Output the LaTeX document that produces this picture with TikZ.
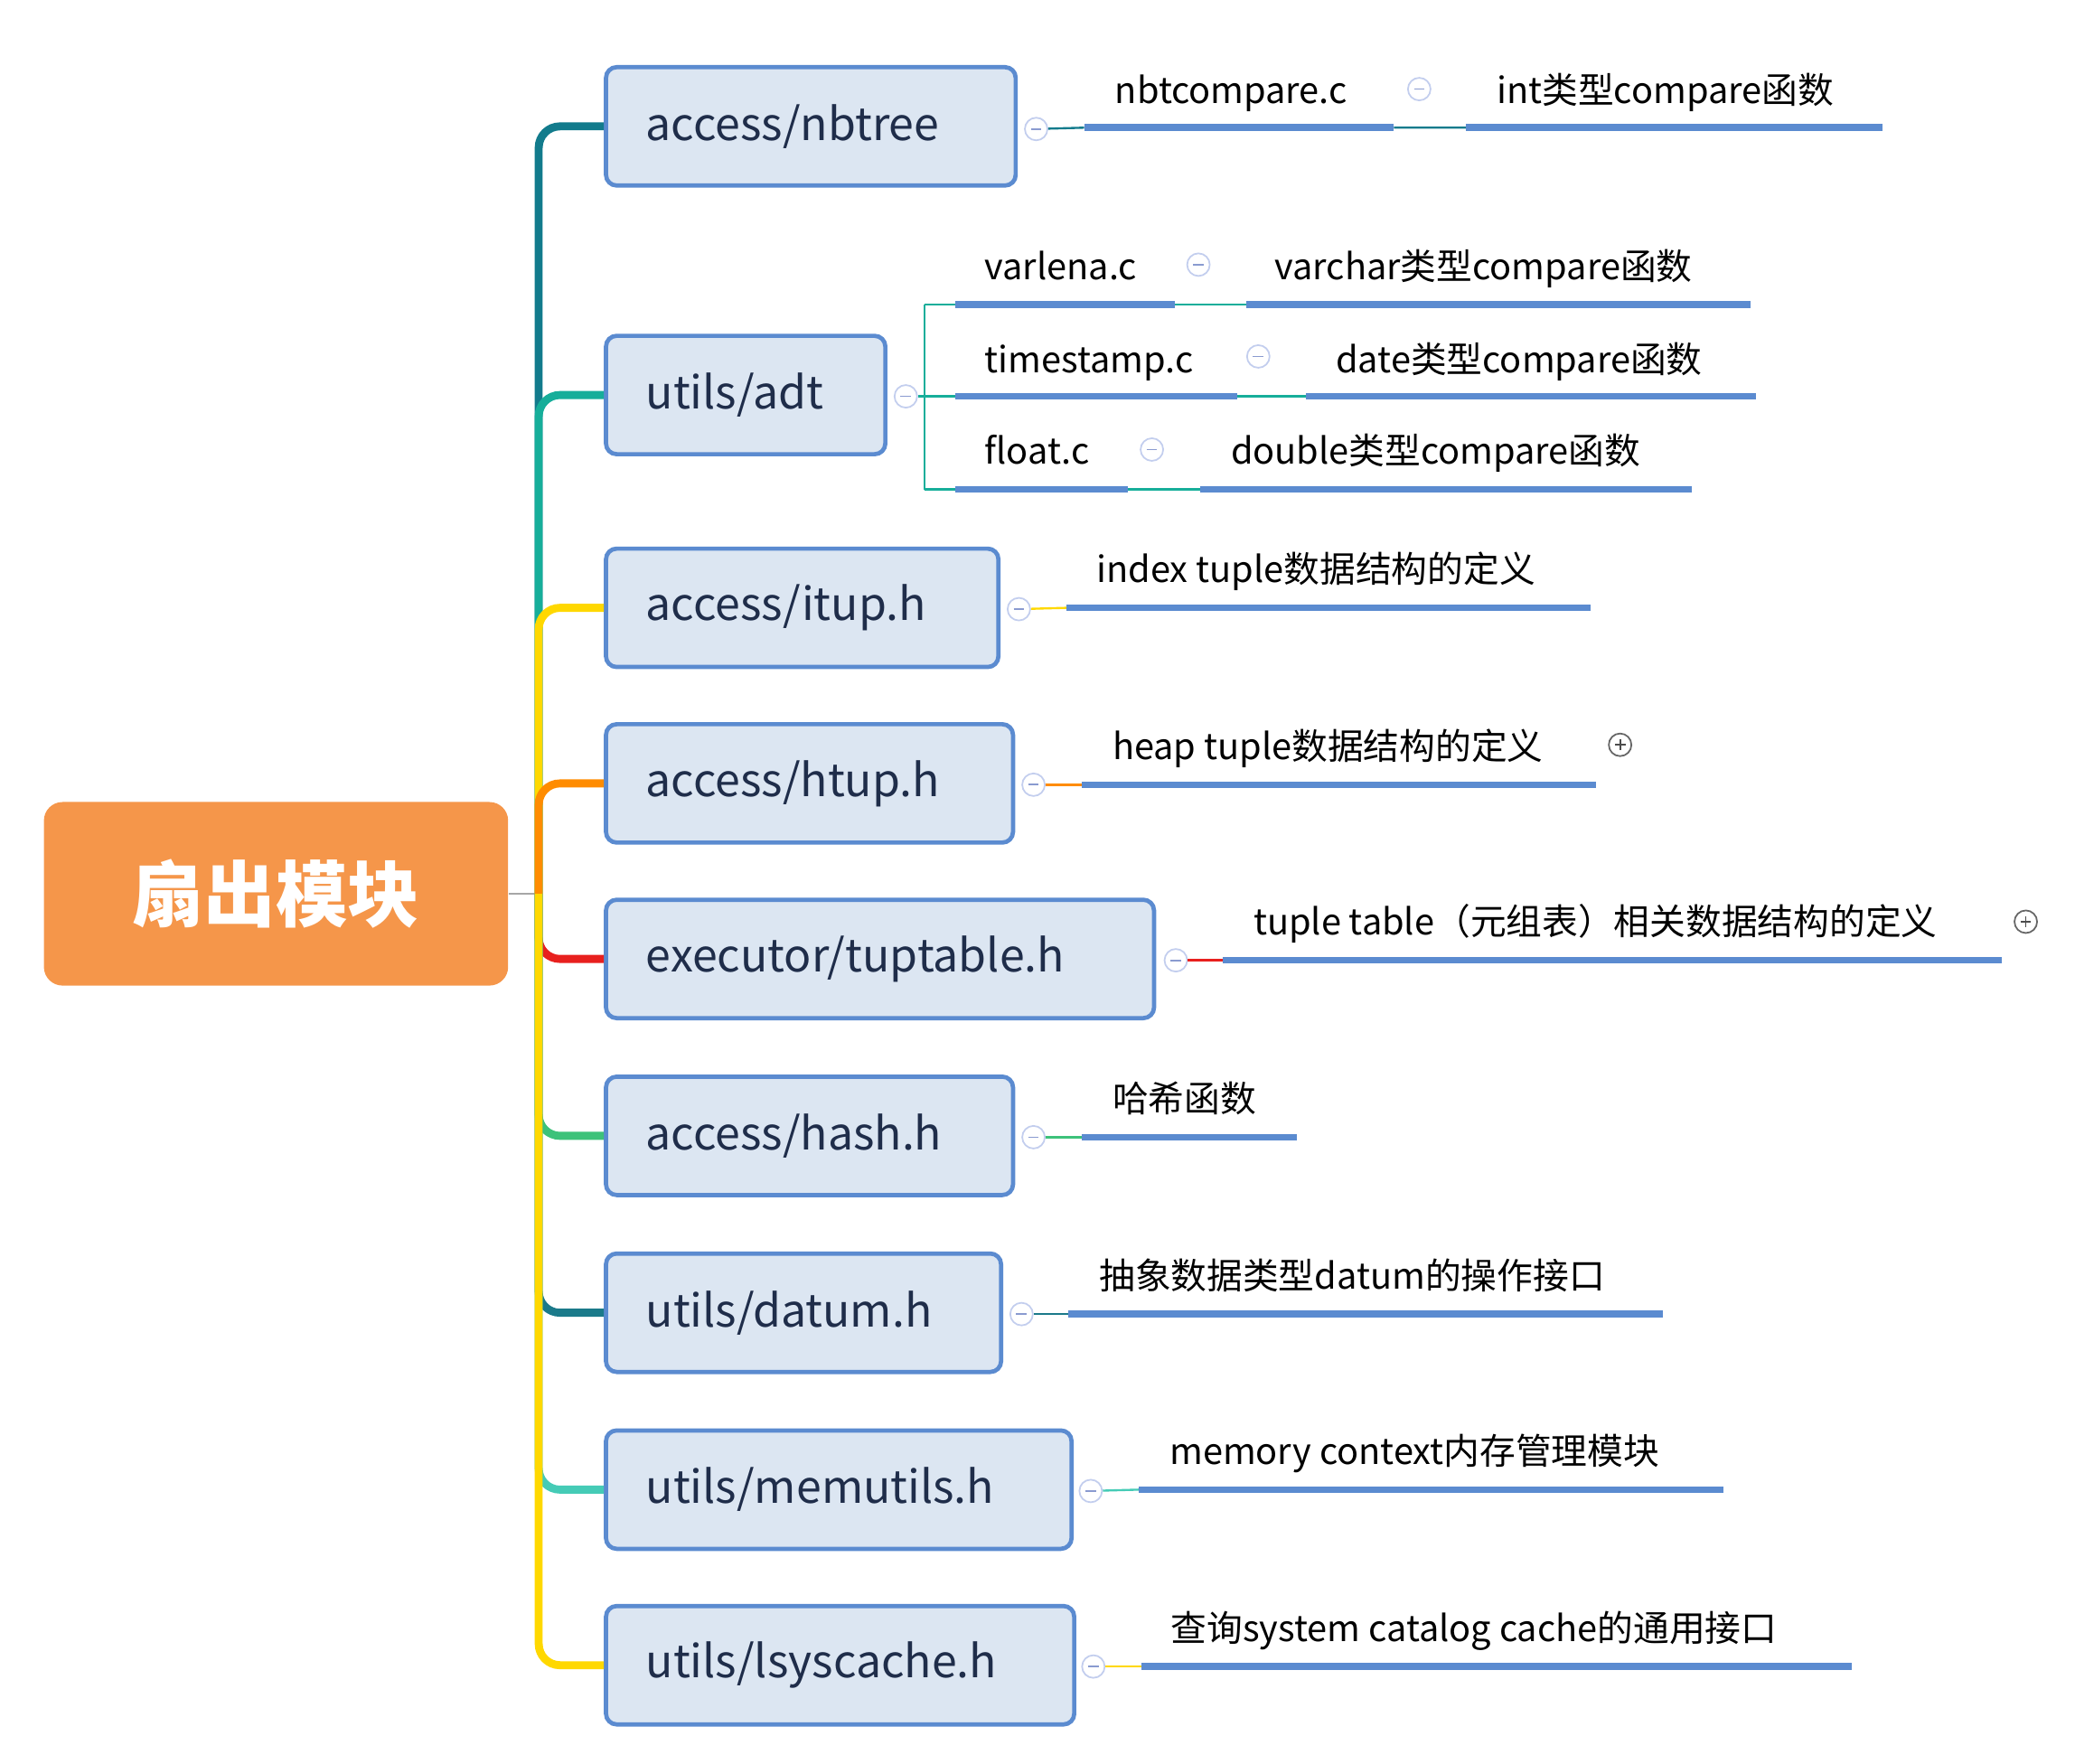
\documentclass[tikz,border=0pt]{standalone}
\usepackage{fontspec}
\setmainfont{Noto Sans CJK SC}
\begin{document}
\begin{tikzpicture}[x=0.5pt,y=-0.5pt,
  box/.style={draw=boxb,line width=1.6pt,fill=boxf,rounded corners=4pt,minimum height=44.5pt,anchor=west,inner xsep=15pt,align=left,font=\fontsize{17}{17}\selectfont,text=txt},
  lbl/.style={anchor=base west,inner sep=0pt,font=\fontsize{13.5}{13.5}\selectfont,text=black},
  uline/.style={draw=boxb,line width=2.6pt},
  tog/.style={circle,draw=togc,line width=0.6pt,fill=white,minimum size=8.5pt,inner sep=0pt,path picture={\draw[togm,line width=0.6pt](path picture bounding box.center)++(-2pt,0)--++(4pt,0);}},
  togp/.style={tog,draw=black!60,path picture={\draw[black!70,line width=0.6pt](path picture bounding box.center)++(-2pt,0)--++(4pt,0)(path picture bounding box.center)++(0,-2pt)--++(0,4pt);}},
  trunk/.style={line width=3pt,rounded corners=8pt},
  thin/.style={line width=0.8pt}]
\definecolor{boxb}{HTML}{5B8BD0}\definecolor{boxf}{HTML}{DCE6F2}\definecolor{txt}{HTML}{1F2D4A}
\definecolor{togc}{HTML}{C3CEEE}\definecolor{togm}{HTML}{8A9BD0}
\definecolor{cA}{HTML}{127B8C}\definecolor{cB}{HTML}{16AE9A}\definecolor{cC}{HTML}{FFD800}
\definecolor{cD}{HTML}{FF8C00}\definecolor{cE}{HTML}{E8201E}\definecolor{cF}{HTML}{3DC27A}
\definecolor{cG}{HTML}{1B7A8A}\definecolor{cH}{HTML}{45CBB6}\definecolor{root}{HTML}{F5964A}
\useasboundingbox (0,0) rectangle (1560,1326);
\node[fill=root,rounded corners=7pt,minimum width=174.5pt,minimum height=69pt,text=white,font=\fontsize{27}{27}\selectfont\bfseries] (R) at (207.5,672) {扇出模块};
\coordinate (J) at (405,672);
\draw[thin,draw=gray!70] (R.east)--(J);
% boxes
\node[box,text width=124pt] (b1) at (454,95) {access/nbtree};
\node[box,text width=75pt] (b2) at (454,297) {utils/adt};
\node[box,text width=117.5pt] (b3) at (454,457) {access/itup.h};
\node[box,text width=123pt] (b4) at (454,589) {access/htup.h};
\node[box,text width=176pt] (b5) at (454,721) {executor/tuptable.h};
\node[box,text width=123pt] (b6) at (454,854) {access/hash.h};
\node[box,text width=118.5pt] (b7) at (454,987) {utils/datum.h};
\node[box,text width=145pt] (b8) at (454,1120) {utils/memutils.h};
\node[box,text width=146pt] (b9) at (454,1252) {utils/lsyscache.h};
% trunk branches
\draw[trunk,cA] (J)--(405,95)--(b1.west);
\draw[trunk,cB] (J)--(405,297)--(b2.west);
\draw[trunk,cC] (J)--(405,457)--(b3.west);
\draw[trunk,cD] (J)--(405,589)--(b4.west);
\draw[trunk,cE] (J)--(405,721)--(b5.west);
\draw[trunk,cF] (J)--(405,854)--(b6.west);
\draw[trunk,cG] (J)--(405,987)--(b7.west);
\draw[trunk,cH] (J)--(405,1120)--(b8.west);
\draw[trunk,cC] (J)--(405,1252)--(b9.west);
% toggles on boxes
\node[tog] (t1) at (779,97) {};
\node[tog] (t2) at (681,298) {};
\node[tog] (t3) at (766,458) {};
\node[tog] (t4) at (777,590) {};
\node[tog] (t5) at (884,722) {};
\node[tog] (t6) at (777,855) {};
\node[tog] (t7) at (768,988) {};
\node[tog] (t8) at (820,1121) {};
\node[tog] (t9) at (822,1253) {};
% nbtree leaves
\coordinate (a1) at (815,96);\coordinate (a2) at (1048,96);\coordinate (a3) at (1102,96);\coordinate (a4) at (1415,96);
\draw[thin,cA] (t1)--(a1) (a2)--(a3);
\draw[uline] (a1)--(a2);\draw[uline] (a3)--(a4);
\node[lbl] (l1) at (838,78) {nbtcompare.c};
\node[tog] (s1) at (1067,67) {};
\node[lbl] (l2) at (1125,78) {int类型compare函数};
% adt leaves
\coordinate (k1) at (695,229);\coordinate (k2) at (695,368);
\draw[thin,cB] (t2)--(695,298) (k1)--(k2) (k1)--(718,229) (695,298)--(718,298) (k2)--(718,368);
\draw[thin,cB] (883,229)--(937,229) (930,298)--(982,298) (848,368)--(902,368);
\draw[uline] (718,229)--(883,229) (937,229)--(1316,229);
\draw[uline] (718,298)--(930,298) (982,298)--(1320,298);
\draw[uline] (718,368)--(848,368) (902,368)--(1272,368);
\node[lbl] (v1) at (740,210) {varlena.c};
\node[tog] (s2) at (901,199) {};
\node[lbl] (v2) at (958,210) {varchar类型compare函数};
\node[lbl] (v3) at (740,280) {timestamp.c};
\node[tog] (s3) at (946,268) {};
\node[lbl] (v4) at (1004,280) {date类型compare函数};
\node[lbl] (v5) at (740,349) {float.c};
\node[tog] (s4) at (866,338) {};
\node[lbl] (v6) at (925,349) {double类型compare函数};
% single leaves
\draw[thin,cC] (t3)--(802,457); \draw[uline] (802,457)--(1196,457);
\node[lbl] (m3) at (824,438) {index tuple数据结构的定义};
\draw[thin,cD] (t4)--(813,590); \draw[uline] (813,590)--(1200,590);
\node[lbl] (m4) at (836,571) {heap tuple数据结构的定义};
\node[togp] (p4) at (1218,560) {};
\draw[thin,cE] (t5)--(919,722); \draw[uline] (919,722)--(1505,722);
\node[lbl] (m5) at (942,703) {tuple table（元组表）相关数据结构的定义};
\node[togp] (p5) at (1523,693) {};
\draw[thin,cF] (t6)--(813,855); \draw[uline] (813,855)--(975,855);
\node[lbl] (m6) at (836,836) {哈希函数};
\draw[thin,cG] (t7)--(803,988); \draw[uline] (803,988)--(1250,988);
\node[lbl] (m7) at (826,969) {抽象数据类型datum的操作接口};
\draw[thin,cH] (t8)--(856,1120); \draw[uline] (856,1120)--(1296,1120);
\node[lbl] (m8) at (879,1101) {memory context内存管理模块};
\draw[thin,cC] (t9)--(858,1253); \draw[uline] (858,1253)--(1392,1253);
\node[lbl] (m9) at (880,1234) {查询system catalog cache的通用接口};
\end{tikzpicture}
\end{document}
